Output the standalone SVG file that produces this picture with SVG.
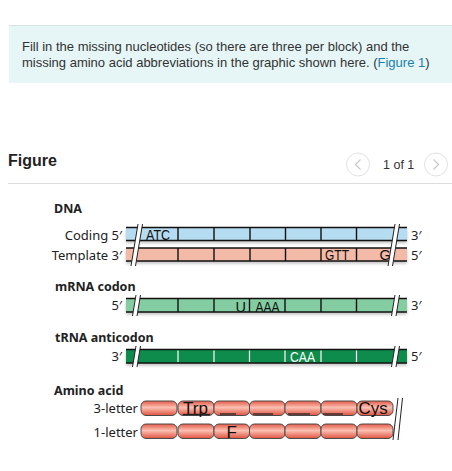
<svg xmlns="http://www.w3.org/2000/svg" width="452" height="471" viewBox="0 0 452 471">
<defs>
<style>
.hdr{font-family:"Liberation Sans",Arial,sans-serif;font-size:13px;fill:#333}
.lbl{font-family:"Noto Sans",sans-serif;font-size:13px;fill:#222}
.bold{font-family:"Noto Sans",sans-serif;font-size:12.5px;font-weight:bold;fill:#222}
.seq{font-family:"Liberation Sans",Arial,sans-serif;font-size:14.5px;fill:#111}
.aa{font-family:"Liberation Sans",Arial,sans-serif;font-size:17px;fill:#111}
.edge{stroke:#111;stroke-width:1.6}
.div{stroke:#111;stroke-width:1.4}
.divw{stroke:#fff;stroke-width:1.2}
.sl{stroke:#222;stroke-width:1}
.pill{stroke:#4a4a4a;stroke-width:1;fill:url(#pg)}
.blank{stroke:#222;stroke-width:1.3}
</style>
<linearGradient id="pg" x1="0" y1="0" x2="0" y2="1">
<stop offset="0" stop-color="#e65a48"/>
<stop offset="0.45" stop-color="#fbc0b2"/>
<stop offset="1" stop-color="#e0523f"/>
</linearGradient>
<filter id="sh" x="-5%" y="-50%" width="110%" height="220%">
<feDropShadow dx="0" dy="2.5" stdDeviation="1.8" flood-color="#000" flood-opacity="0.25"/>
</filter>
</defs>
<rect width="452" height="471" fill="#fff"/>

<g id="header">
<rect x="9" y="25" width="443" height="58" fill="#e6f5f5"/>
<line x1="9" y1="25.5" x2="452" y2="25.5" stroke="#d5e3e3" stroke-width="1"/>
<text class="hdr" x="22" y="51">Fill in the missing nucleotides (so there are three per block) and the</text>
<text class="hdr" x="22" y="67">missing amino acid abbreviations in the graphic shown here. (<tspan fill="#1a80ab">Figure 1</tspan>)</text>
</g>

<g id="figure-bar">
<text x="8" y="166" font-family="Liberation Sans,Arial,sans-serif" font-size="16" font-weight="bold" fill="#222">Figure</text>
<circle cx="358" cy="164.5" r="11.5" fill="#fff" stroke="#e2e2e2" stroke-width="1"/>
<path d="M360.5 159.5 L355.5 164.5 L360.5 169.5" fill="none" stroke="#c8c8c8" stroke-width="1.2"/>
<text x="383" y="169" font-family="Liberation Sans,Arial,sans-serif" font-size="12.5" fill="#333">1 of 1</text>
<circle cx="436" cy="164.5" r="11.5" fill="#fff" stroke="#e2e2e2" stroke-width="1"/>
<path d="M433.5 159.5 L438.5 164.5 L433.5 169.5" fill="none" stroke="#c8c8c8" stroke-width="1.2"/>
<line x1="8" y1="183.5" x2="452" y2="183.5" stroke="#dcdcdc" stroke-width="1"/>
</g>

<g id="dna">
<text class="bold" x="54" y="213">DNA</text>
<text class="lbl" x="122" y="240" text-anchor="end">Coding 5′</text>
<text class="lbl" x="122" y="260" text-anchor="end">Template 3′</text>
<text class="lbl" x="411" y="240">3′</text>
<text class="lbl" x="411" y="260">5′</text>
<g id="coding-strand">
<rect x="126" y="227.5" width="281" height="13" fill="#b6dcf2" filter="url(#sh)"/>
<line class="edge" x1="126" y1="227.5" x2="407" y2="227.5"/>
<line class="edge" x1="126" y1="240.5" x2="407" y2="240.5"/>
<line class="div" x1="178" y1="227.5" x2="178" y2="240.5"/>
<line class="div" x1="214" y1="227.5" x2="214" y2="240.5"/>
<line class="div" x1="250" y1="227.5" x2="250" y2="240.5"/>
<line class="div" x1="285.5" y1="227.5" x2="285.5" y2="240.5"/>
<line class="div" x1="321" y1="227.5" x2="321" y2="240.5"/>
<line class="div" x1="356.5" y1="227.5" x2="356.5" y2="240.5"/>
<text class="seq" x="146" y="239.5" textLength="24" lengthAdjust="spacingAndGlyphs">ATC</text>
</g>
<g id="template-strand">
<rect x="126" y="248" width="281" height="13" fill="#f3baa7" filter="url(#sh)"/>
<line class="edge" x1="126" y1="248" x2="407" y2="248"/>
<line class="edge" x1="126" y1="261" x2="407" y2="261"/>
<line class="div" x1="178" y1="248" x2="178" y2="261"/>
<line class="div" x1="214" y1="248" x2="214" y2="261"/>
<line class="div" x1="250" y1="248" x2="250" y2="261"/>
<line class="div" x1="285.5" y1="248" x2="285.5" y2="261"/>
<line class="div" x1="321" y1="248" x2="321" y2="261"/>
<line class="div" x1="356.5" y1="248" x2="356.5" y2="261"/>
<text class="seq" x="325" y="260" textLength="24" lengthAdjust="spacingAndGlyphs">GTT</text>
<text class="seq" x="379.5" y="260">G</text>
</g>
<polygon points="131,266 138,224 142.5,224 135.5,266" fill="#fff"/>
<line class="sl" x1="131" y1="266" x2="138" y2="224"/>
<line class="sl" x1="135.5" y1="266" x2="142.5" y2="224"/>
<polygon points="388,266 395,224 399.5,224 392.5,266" fill="#fff"/>
<line class="sl" x1="388" y1="266" x2="395" y2="224"/>
<line class="sl" x1="392.5" y1="266" x2="399.5" y2="224"/>
</g>

<g id="mrna">
<text class="bold" x="55" y="291">mRNA codon</text>
<text class="lbl" x="122" y="310" text-anchor="end">5′</text>
<text class="lbl" x="411" y="310">3′</text>
<rect x="126" y="298.5" width="281" height="13.5" fill="#84cca2" filter="url(#sh)"/>
<line class="edge" x1="126" y1="298.5" x2="407" y2="298.5"/>
<line class="edge" x1="126" y1="312" x2="407" y2="312"/>
<line class="div" x1="178" y1="298.5" x2="178" y2="312" stroke-width="1"/>
<line class="div" x1="214" y1="298.5" x2="214" y2="312" stroke-width="1"/>
<line class="div" x1="249.5" y1="298.5" x2="249.5" y2="312" stroke-width="1"/>
<line class="div" x1="285" y1="298.5" x2="285" y2="312" stroke-width="1"/>
<line class="div" x1="321" y1="298.5" x2="321" y2="312" stroke-width="1"/>
<line class="div" x1="356.5" y1="298.5" x2="356.5" y2="312" stroke-width="1"/>
<text class="seq" x="246" y="311.5" text-anchor="end">U</text>
<text class="seq" x="255.5" y="311.5" textLength="24" lengthAdjust="spacingAndGlyphs">AAA</text>
<polygon points="132.5,316 136,295 140.5,295 137,316" fill="#fff"/>
<line class="sl" x1="132.5" y1="316" x2="136" y2="295"/>
<line class="sl" x1="137" y1="316" x2="140.5" y2="295"/>
<polygon points="391.5,316 395,295 399.5,295 396,316" fill="#fff"/>
<line class="sl" x1="391.5" y1="316" x2="395" y2="295"/>
<line class="sl" x1="396" y1="316" x2="399.5" y2="295"/>
</g>

<g id="trna">
<text class="bold" x="55" y="342">tRNA anticodon</text>
<text class="lbl" x="122" y="361" text-anchor="end">3′</text>
<text class="lbl" x="411" y="361">5′</text>
<rect x="126" y="349.5" width="281" height="13.5" fill="#0a8c4c" filter="url(#sh)"/>
<line class="edge" x1="126" y1="349.5" x2="407" y2="349.5"/>
<line class="edge" x1="126" y1="363" x2="407" y2="363"/>
<line class="divw" x1="178" y1="350.5" x2="178" y2="362"/>
<line class="divw" x1="214" y1="350.5" x2="214" y2="362"/>
<line class="divw" x1="249.5" y1="350.5" x2="249.5" y2="362"/>
<line class="divw" x1="285" y1="350.5" x2="285" y2="362"/>
<line class="divw" x1="321" y1="350.5" x2="321" y2="362"/>
<line class="divw" x1="356.5" y1="350.5" x2="356.5" y2="362"/>
<text class="seq" x="290" y="362" textLength="25" lengthAdjust="spacingAndGlyphs" style="fill:#fff">CAA</text>
<polygon points="132.5,367 136,346 140.5,346 137,367" fill="#fff"/>
<line class="sl" x1="132.5" y1="367" x2="136" y2="346"/>
<line class="sl" x1="137" y1="367" x2="140.5" y2="346"/>
<polygon points="391.5,367 395,346 399.5,346 396,367" fill="#fff"/>
<line class="sl" x1="391.5" y1="367" x2="395" y2="346"/>
<line class="sl" x1="396" y1="367" x2="399.5" y2="346"/>
</g>

<g id="amino-acid">
<text class="bold" x="54" y="395">Amino acid</text>
<text class="lbl" x="138" y="413" text-anchor="end">3-letter</text>
<text class="lbl" x="138" y="437" text-anchor="end">1-letter</text>
<g id="three-letter">
<rect class="pill" x="141" y="401" width="36" height="14.5" rx="5"/>
<rect class="pill" x="178" y="401" width="36" height="14.5" rx="5"/>
<rect class="pill" x="214" y="401" width="35.5" height="14.5" rx="5"/>
<rect class="pill" x="249.5" y="401" width="35.5" height="14.5" rx="5"/>
<rect class="pill" x="285" y="401" width="36" height="14.5" rx="5"/>
<rect class="pill" x="321" y="401" width="36" height="14.5" rx="5"/>
<rect class="pill" x="357" y="401" width="36" height="14.5" rx="5"/>
<text class="aa" x="183" y="413.5">Trp</text>
<line class="blank" x1="183" y1="414.5" x2="210" y2="414.5"/>
<line class="blank" x1="220" y1="414" x2="236" y2="414"/>
<line class="blank" x1="253" y1="414" x2="273" y2="414"/>
<line class="blank" x1="288" y1="414" x2="310" y2="414"/>
<line class="blank" x1="323" y1="414" x2="343" y2="414"/>
<text class="aa" x="358.5" y="413.5">Cys</text>
</g>
<g id="one-letter">
<rect class="pill" x="141" y="424" width="36" height="14.5" rx="5"/>
<rect class="pill" x="178" y="424" width="36" height="14.5" rx="5"/>
<rect class="pill" x="214" y="424" width="35.5" height="14.5" rx="5"/>
<rect class="pill" x="249.5" y="424" width="35.5" height="14.5" rx="5"/>
<rect class="pill" x="285" y="424" width="36" height="14.5" rx="5"/>
<rect class="pill" x="321" y="424" width="36" height="14.5" rx="5"/>
<rect class="pill" x="357" y="424" width="36" height="14.5" rx="5"/>
<text class="aa" x="226.5" y="437.5">F</text>
</g>
<line class="sl" x1="393" y1="440" x2="398" y2="398"/>
<line class="sl" x1="398" y1="440" x2="402.5" y2="398"/>
</g>
</svg>
